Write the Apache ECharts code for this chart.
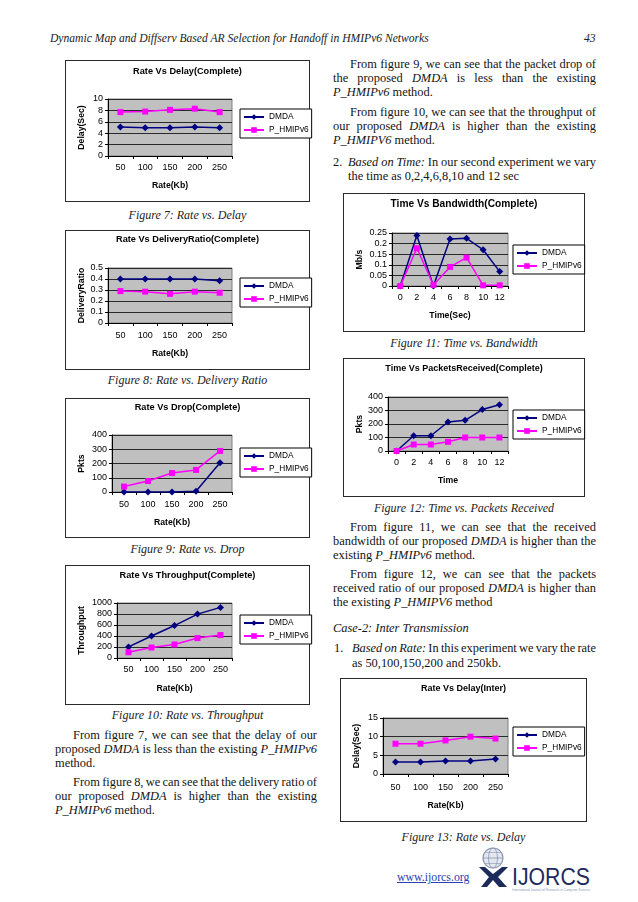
<!DOCTYPE html>
<html>
<head>
<meta charset="utf-8">
<script src="https://cdn.jsdelivr.net/npm/echarts@6/dist/echarts.min.js"></script>
<style>
html,body{margin:0;padding:0;background:#fff;}
#page{position:relative;width:638px;height:902px;overflow:hidden;font-family:"Liberation Serif","Times New Roman",serif;color:#141414;}
.t{position:absolute;font-size:12.4px;line-height:16px;height:16px;white-space:nowrap;}
.frame{position:absolute;border:1px solid #2a2a2a;background:#fff;box-sizing:border-box;}
.cap{position:absolute;font-style:italic;font-size:12px;line-height:16px;text-align:center;color:#222;}
#chart{position:absolute;left:0;top:0;width:638px;height:902px;z-index:2;}
.hdr{position:absolute;font-style:italic;font-size:11.6px;line-height:14px;color:#222;white-space:nowrap;}
</style>
</head>
<body>
<div id="page">
  <div class="hdr" style="left:50px;top:32px;">Dynamic Map and Diffserv Based AR Selection for Handoff in HMIPv6 Networks</div>
  <div class="hdr" style="left:584px;top:32px;">43</div>

  <!-- chart frames -->
  <div class="frame" style="left:65px;top:60px;width:245px;height:142px;"></div>
  <div class="frame" style="left:65px;top:230px;width:245px;height:140px;"></div>
  <div class="frame" style="left:65px;top:398px;width:245px;height:140px;"></div>
  <div class="frame" style="left:65px;top:565px;width:245px;height:140px;"></div>
  <div class="frame" style="left:343px;top:193px;width:242px;height:139px;"></div>
  <div class="frame" style="left:343px;top:358px;width:242px;height:139px;"></div>
  <div class="frame" style="left:340px;top:678px;width:247px;height:144px;"></div>

  <!-- captions -->
  <div class="cap" style="left:65px;width:245px;top:207px;">Figure 7: Rate vs. Delay</div>
  <div class="cap" style="left:65px;width:245px;top:372px;">Figure 8: Rate vs. Delivery Ratio</div>
  <div class="cap" style="left:65px;width:245px;top:541px;">Figure 9: Rate vs. Drop</div>
  <div class="cap" style="left:65px;width:245px;top:707px;">Figure 10: Rate vs. Throughput</div>
  <div class="cap" style="left:343px;width:242px;top:335px;">Figure 11: Time vs. Bandwidth</div>
  <div class="cap" style="left:343px;width:242px;top:500px;">Figure 12: Time vs. Packets Received</div>
  <div class="cap" style="left:340px;width:247px;top:829px;">Figure 13: Rate vs. Delay</div>

  <!-- right column, top -->
  <div class="t j" data-w="246" style="left:350px;top:56px;">From figure 9, we can see that the packet drop of</div>
  <div class="t j" data-w="263" style="left:333px;top:70px;">the proposed <i>DMDA</i> is less than the existing</div>
  <div class="t" style="left:333px;top:84px;"><i>P_HMIPv6</i> method.</div>
  <div class="t j" data-w="246" style="left:350px;top:104px;">From figure 10, we can see that the throughput of</div>
  <div class="t j" data-w="263" style="left:333px;top:118px;">our proposed <i>DMDA</i> is higher than the existing</div>
  <div class="t" style="left:333px;top:132px;"><i>P_HMIPV6</i> method.</div>
  <div class="t" style="left:333px;top:154px;">2.</div>
  <div class="t j" data-w="248" style="left:348px;top:154px;"><i>Based on Time:</i> In our second experiment we vary</div>
  <div class="t" style="left:348px;top:168px;">the time as 0,2,4,6,8,10 and 12 sec</div>

  <!-- right column, middle -->
  <div class="t j" data-w="246" style="left:350px;top:519px;">From figure 11, we can see that the received</div>
  <div class="t j" data-w="263" style="left:333px;top:533px;">bandwidth of our proposed <i>DMDA</i> is higher than the</div>
  <div class="t" style="left:333px;top:547px;">existing <i>P_HMIPv6</i> method.</div>
  <div class="t j" data-w="246" style="left:350px;top:566px;">From figure 12, we can see that the packets</div>
  <div class="t j" data-w="263" style="left:333px;top:580px;">received ratio of our proposed <i>DMDA</i> is higher than</div>
  <div class="t" style="left:333px;top:594px;">the existing <i>P_HMIPV6</i> method</div>
  <div class="t" style="left:333px;top:620px;"><i>Case-2: Inter Transmission</i></div>
  <div class="t" style="left:334px;top:640px;">1.</div>
  <div class="t j" data-w="244" style="left:352px;top:640px;"><i>Based on Rate:</i> In this experiment we vary the rate</div>
  <div class="t" style="left:352px;top:655px;">as 50,100,150,200 and 250kb.</div>

  <!-- left column, bottom -->
  <div class="t j" data-w="244" style="left:73px;top:727px;">From figure 7, we can see that the delay of our</div>
  <div class="t j" data-w="262" style="left:55px;top:741px;">proposed <i>DMDA</i> is less than the existing <i>P_HMIPv6</i></div>
  <div class="t" style="left:55px;top:755px;">method.</div>
  <div class="t j" data-w="244" style="left:73px;top:774px;">From figure 8, we can see that the delivery ratio of</div>
  <div class="t j" data-w="262" style="left:55px;top:788px;">our proposed <i>DMDA</i> is higher than the existing</div>
  <div class="t" style="left:55px;top:802px;"><i>P_HMIPv6</i> method.</div>

  <!-- footer -->
  <div style="position:absolute;left:397px;top:869px;font-size:11.8px;line-height:16px;color:#2b3fb0;text-decoration:underline;">www.ijorcs.org</div>
  <svg style="position:absolute;left:476px;top:845px;" width="120" height="50" viewBox="0 0 120 50">
    <circle cx="17" cy="13" r="10" fill="#e3e8f0" stroke="#8a96b0" stroke-width="1.2"/>
    <ellipse cx="17" cy="13" rx="4.5" ry="10" fill="none" stroke="#8a96b0" stroke-width="0.8"/>
    <line x1="7" y1="13" x2="27" y2="13" stroke="#8a96b0" stroke-width="0.8"/>
    <line x1="9" y1="7.5" x2="25" y2="7.5" stroke="#8a96b0" stroke-width="0.6"/>
    <line x1="9" y1="18.5" x2="25" y2="18.5" stroke="#8a96b0" stroke-width="0.6"/>
    <path d="M3 22 L13 32 L5 42 L11 42 L17 35 L23 42 L31 42 L22 32 L32 22 L26 22 L17 29 L9 22 Z" fill="#1d2b5c"/>
    <text x="36" y="40" font-family="Liberation Sans, Arial, sans-serif" font-size="24" fill="#1d2b5c" textLength="78" lengthAdjust="spacingAndGlyphs">IJORCS</text>
    <text x="36" y="46" font-family="Liberation Sans, Arial, sans-serif" font-size="3.6" fill="#8a9ab8" textLength="78" lengthAdjust="spacingAndGlyphs">International Journal of Research in Computer Science</text>
  </svg>

  <div id="chart"></div>
</div>

<script>
// ---------- data ----------
const rateCats = ['50', '100', '150', '200', '250'];
const timeCats = ['0', '2', '4', '6', '8', '10', '12'];
const seriesNames = ['DMDA', 'P_HMIPv6'];

const delayDMDA = [5.1, 4.95, 4.95, 5.1, 4.95];
const delayPHMIP = [7.7, 7.8, 8.1, 8.3, 7.7];
const delayTicks = [0, 2, 4, 6, 8, 10];

const ratioDMDA = [0.4, 0.4, 0.4, 0.4, 0.385];
const ratioPHMIP = [0.29, 0.285, 0.265, 0.285, 0.275];
const ratioTicks = [0, 0.1, 0.2, 0.3, 0.4, 0.5];

const dropDMDA = [0, 0, 0, 5, 205];
const dropPHMIP = [38, 77, 133, 155, 288];
const dropTicks = [0, 100, 200, 300, 400];

const tputDMDA = [202, 400, 590, 798, 920];
const tputPHMIP = [104, 190, 245, 362, 417];
const tputTicks = [0, 200, 400, 600, 800, 1000];

const bwDMDA = [0, 0.238, 0, 0.222, 0.225, 0.171, 0.068];
const bwPHMIP = [0, 0.178, 0.005, 0.09, 0.134, 0.003, 0.003];
const bwTicks = [0, 0.05, 0.1, 0.15, 0.2, 0.25];

const pktDMDA = [0, 113, 113, 215, 227, 307, 342];
const pktPHMIP = [0, 48, 48, 68, 100, 100, 100];
const pktTicks = [0, 100, 200, 300, 400];

const interDelayDMDA = [3.2, 3.2, 3.5, 3.5, 4.05];
const interDelayPHMIP = [8.1, 8.1, 9.0, 10.0, 9.5];
const interDelayTicks = [0, 5, 10, 15];

// ---------- justify text lines to their column width ----------
document.querySelectorAll('.j').forEach(el => {
  const target = parseFloat(el.dataset.w);
  const natural = el.getBoundingClientRect().width;
  const spaces = (el.textContent.match(/ /g) || []).length;
  if (spaces) el.style.wordSpacing = ((target - natural) / spaces) + 'px';
});

// ---------- layout ----------
const FONT = 'Liberation Sans, Arial, sans-serif';
const panels = [
  {title: 'Rate Vs Delay(Complete)', cats: rateCats, a: delayDMDA, b: delayPHMIP, ticks: delayTicks,
   yName: 'Delay(Sec)', xName: 'Rate(Kb)', frameCx: 187.5, titleY: 73, titleSize: 9.2,
   grid: [108, 99, 232, 156], legend: [240, 109], yNameX: 82, xLabelY: 168, xNameY: 185},
  {title: 'Rate Vs DeliveryRatio(Complete)', cats: rateCats, a: ratioDMDA, b: ratioPHMIP, ticks: ratioTicks,
   yName: 'DeliveryRatio', xName: 'Rate(Kb)', frameCx: 187.5, titleY: 241, titleSize: 9.2,
   grid: [108, 268, 232, 323], legend: [240, 278], yNameX: 82, xLabelY: 336, xNameY: 353},
  {title: 'Rate Vs Drop(Complete)', cats: rateCats, a: dropDMDA, b: dropPHMIP, ticks: dropTicks,
   yName: 'Pkts', xName: 'Rate(Kb)', frameCx: 187.5, titleY: 409, titleSize: 9.2,
   grid: [112, 435, 232, 492], legend: [240, 448], yNameX: 82, xLabelY: 505, xNameY: 522},
  {title: 'Rate Vs Throughput(Complete)', cats: rateCats, a: tputDMDA, b: tputPHMIP, ticks: tputTicks,
   yName: 'Throughput', xName: 'Rate(Kb)', frameCx: 187.5, titleY: 577, titleSize: 9.2,
   grid: [117, 603, 232, 658], legend: [240, 615], yNameX: 82, xLabelY: 670, xNameY: 688},
  {title: 'Time Vs Bandwidth(Complete)', cats: timeCats, a: bwDMDA, b: bwPHMIP, ticks: bwTicks,
   yName: 'Mb/s', xName: 'Time(Sec)', frameCx: 464, titleY: 205, titleSize: 10.2,
   grid: [392, 233, 508, 286], legend: [513, 245], yNameX: 360, xLabelY: 298, xNameY: 315},
  {title: 'Time Vs PacketsReceived(Complete)', cats: timeCats, a: pktDMDA, b: pktPHMIP, ticks: pktTicks,
   yName: 'Pkts', xName: 'Time', frameCx: 464, titleY: 370, titleSize: 9.0,
   grid: [388, 397, 508, 451], legend: [513, 410], yNameX: 360, xLabelY: 463, xNameY: 480},
  {title: 'Rate Vs Delay(Inter)', cats: rateCats, a: interDelayDMDA, b: interDelayPHMIP, ticks: interDelayTicks,
   yName: 'Delay(Sec)', xName: 'Rate(Kb)', frameCx: 463.5, titleY: 690, titleSize: 9.0,
   grid: [383, 718, 508, 774], legend: [513, 727], yNameX: 357, xLabelY: 788, xNameY: 805}
];

const LABEL_SIZE = 9;
const NAME_SIZE = 8.7;
const plainNumber = v => String(Number(Number(v).toFixed(6)));

const option = {
  animation: false,
  backgroundColor: 'transparent',
  title: [], grid: [], xAxis: [], yAxis: [], legend: [], series: []
};

panels.forEach((p, i) => {
  const [gl, gt, gr, gb] = p.grid;
  option.title.push({
    text: p.title, left: p.frameCx, top: p.titleY - p.titleSize / 2 - 1, textAlign: 'center', padding: 0,
    textStyle: {fontFamily: FONT, fontWeight: 'bold', fontSize: p.titleSize, color: '#000'}
  });
  option.grid.push({
    left: gl, top: gt, width: gr - gl, height: gb - gt, show: true,
    backgroundColor: '#c0c0c0', borderColor: '#808080', borderWidth: 1, containLabel: false
  });
  option.xAxis.push({
    gridIndex: i, type: 'category', data: p.cats, boundaryGap: true,
    axisLine: {lineStyle: {color: '#000', width: 1}},
    axisTick: {show: true, length: 3, lineStyle: {color: '#000'}},
    axisLabel: {margin: p.xLabelY - gb - LABEL_SIZE / 2, fontSize: LABEL_SIZE, color: '#000', fontFamily: FONT},
    splitLine: {show: false},
    name: p.xName, nameLocation: 'middle', nameGap: p.xNameY - gb - NAME_SIZE / 2,
    nameTextStyle: {fontFamily: FONT, fontWeight: 'bold', fontSize: NAME_SIZE, color: '#000'}
  });
  const t = p.ticks;
  option.yAxis.push({
    gridIndex: i, type: 'value', min: t[0], max: t[t.length - 1], interval: t[1] - t[0],
    axisLine: {show: true, lineStyle: {color: '#000', width: 1}},
    axisTick: {show: true, length: 3, lineStyle: {color: '#000'}},
    axisLabel: {margin: 5, fontSize: LABEL_SIZE, color: '#000', fontFamily: FONT, formatter: plainNumber},
    splitLine: {show: true, lineStyle: {color: '#2a2a2a', width: 1}},
    name: p.yName, nameLocation: 'middle', nameRotate: 90, nameGap: gl - p.yNameX - NAME_SIZE / 2,
    nameTextStyle: {fontFamily: FONT, fontWeight: 'bold', fontSize: NAME_SIZE, color: '#000'}
  });
  option.legend.push({
    left: p.legend[0], top: p.legend[1], orient: 'vertical', data: seriesNames,
    selectedMode: false, backgroundColor: '#fff', borderColor: '#000', borderWidth: 1,
    padding: [4, 3, 4, 3], itemGap: 5, itemWidth: 20, itemHeight: 7,
    textStyle: {fontFamily: FONT, fontSize: 8.3, color: '#000'}
  });
  option.series.push({
    type: 'line', name: seriesNames[0], xAxisIndex: i, yAxisIndex: i, data: p.a,
    symbol: 'diamond', symbolSize: 7, showAllSymbol: true,
    lineStyle: {color: '#000080', width: 1.5}, itemStyle: {color: '#000080'}
  });
  option.series.push({
    type: 'line', name: seriesNames[1], xAxisIndex: i, yAxisIndex: i, data: p.b,
    symbol: 'rect', symbolSize: 6, showAllSymbol: true,
    lineStyle: {color: '#ff00ff', width: 1.5}, itemStyle: {color: '#ff00ff'}
  });
});

const chart = echarts.init(document.getElementById('chart'), null, {renderer: 'canvas'});
chart.setOption(option);
</script>
</body>
</html>
